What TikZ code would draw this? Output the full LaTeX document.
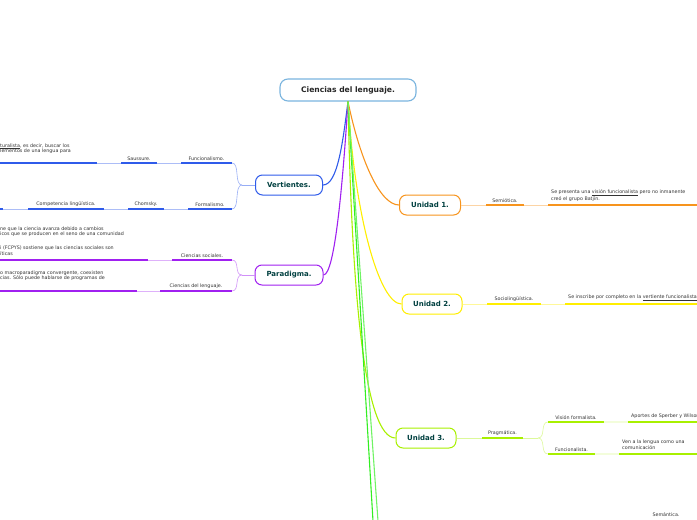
\documentclass[tikz,border=0pt]{standalone}
\usepackage{fontspec}
\setmainfont{DejaVu Sans}
\begin{document}
\begin{tikzpicture}[x=1pt,y=-1pt,
  topic/.style={draw,line width=1pt,rounded corners=7pt,fill=white,font=\bfseries\fontsize{7}{8}\selectfont,text=teal!50!black,minimum height=20pt,inner sep=2pt},
  lbl/.style={font=\fontsize{4.8}{5.6}\selectfont,text=black!80,anchor=south,inner sep=1pt},
  ltxt/.style={font=\fontsize{4.8}{5.8}\selectfont,text=black!80,anchor=south west,inner sep=1pt,align=left},
  thick1/.style={line width=1.1pt},
  thin1/.style={line width=0.6pt}]
\useasboundingbox (0,0) rectangle (697,520);
\clip (0,0) rectangle (697,520);
\definecolor{cblue}{HTML}{2F5BEA}
\definecolor{cpur}{HTML}{A020F0}
\definecolor{cor}{HTML}{F7941D}
\definecolor{cyel}{HTML}{FFEE00}
\definecolor{clg}{HTML}{A8F000}
\definecolor{cgr}{HTML}{33EE22}
\definecolor{croot}{HTML}{7AB4DE}
% root
\node[draw=croot,line width=1.1pt,rounded corners=8pt,minimum width=136pt,minimum height=22pt,font=\bfseries\fontsize{7.6}{8.5}\selectfont,text=black!85] (root) at (348,90) {Ciencias del lenguaje.};
\node[topic,draw=cblue,minimum width=67pt] (ver) at (289,185) {Vertientes.};
\node[topic,draw=cpur,minimum width=68pt] (par) at (289,275) {Paradigma.};
\node[topic,draw=cor,minimum width=61pt] (u1) at (430,205) {Unidad 1.};
\node[topic,draw=cyel,minimum width=60pt] (u2) at (432,304) {Unidad 2.};
\node[topic,draw=clg,minimum width=60pt] (u3) at (426,438) {Unidad 3.};
\coordinate (g1) at (373,521);
\coordinate (g2) at (378,521);
% main connectors
\draw[cblue,thick1] (root.south) .. controls (343,140) and (338,185) .. (ver.east);
\draw[cpur,thick1] (root.south) .. controls (343,180) and (335,275) .. (par.east);
\draw[cor,thick1] (root.south) .. controls (360,160) and (380,205) .. (u1.west);
\draw[cyel,thick1] (root.south) .. controls (355,220) and (380,304) .. (u2.west);
\draw[clg,thick1] (root.south) .. controls (352,300) and (365,438) .. (u3.west);
\draw[cgr,thick1] (root.south) -- (g1);
\draw[cgr!70,thick1] (root.south) -- (g2);
% Vertientes branches
\coordinate (vb) at (242,185);
\draw[cblue!50,thin1] (ver.west) -- (vb);
\draw[cblue!50,thin1] (vb) .. controls (234,185) and (240,163) .. (232,163);
\draw[cblue!50,thin1] (vb) .. controls (234,185) and (240,209) .. (232,209);
\draw[cblue!40,thin1] (0,163) -- (232,163);
\draw[cblue!40,thin1] (0,209) -- (232,209);
\draw[cblue,thick1] (181,163) -- (232,163) node[lbl,midway,above=1pt] {Funcionalismo.};
\draw[cblue,thick1] (121,163) -- (157,163) node[lbl,midway,above=1pt] {Saussure.};
\draw[cblue,thick1] (0,163) -- (97,163);
\node[ltxt] at (-1,155) {\underline{turalista}, es decir, buscar los\\lementos de una lengua para};
\draw[cblue,thick1] (188,209) -- (232,209) node[lbl,midway,above=1pt] {Formalismo.};
\draw[cblue,thick1] (128,209) -- (164,209) node[lbl,midway,above=1pt] {Chomsky.};
\draw[cblue,thick1] (28,209) -- (104,209) node[lbl,midway,above=1pt] {Competencia lingüística.};
\draw[cblue,thick1] (0,209) -- (3,209);
% Paradigma branches
\coordinate (pb) at (242,275);
\draw[cpur!50,thin1] (par.west) -- (pb);
\draw[cpur!50,thin1] (pb) .. controls (234,275) and (240,260) .. (232,260);
\draw[cpur!50,thin1] (pb) .. controls (234,275) and (240,291) .. (232,291);
\draw[cpur!35,thin1] (0,260) -- (232,260);
\draw[cpur!35,thin1] (0,291) -- (232,291);
\draw[cpur,thick1] (172,260) -- (232,260) node[lbl,midway,above=1pt] {Ciencias sociales.};
\draw[cpur,thick1] (0,260) -- (148,260);
\draw[cpur,thick1] (160,291) -- (232,291) node[lbl,midway,above=1pt] {Ciencias del lenguaje.};
\draw[cpur,thick1] (0,291) -- (137,291);
\node[ltxt] at (-1,238) {ne que la ciencia avanza debido a cambios\\icos que se producen en el seno de una comunidad};
\node[ltxt] at (-1,257) {i (FCPYS) sostiene que las ciencias sociales son\\íticas};
\node[ltxt] at (-1,282) {o macroparadigma convergente, coexisten\\cias. Sólo puede hablarse de programas de};
% Unidad 1
\draw[cor!40,thin1] (u1.east) -- (697,205);
\draw[cor,thick1] (486,205) -- (524,205) node[lbl,midway,above=1pt] {Semiótica.};
\draw[cor,thick1] (548,205) -- (697,205);
\node[ltxt] at (550,203) {Se presenta una \underline{visión funcionalista} pero no inmanente\\creó el grupo Batjín.};
% Unidad 2
\draw[cyel!40,thin1] (u2.east) -- (697,304);
\draw[cyel,thick1] (487,304) -- (541,304) node[lbl,midway,above=1pt] {Sociolingüística.};
\draw[cyel,thick1] (565,304) -- (697,304);
\node[ltxt] at (567,302) {Se inscribe por completo en la \underline{vertiente funcionalista}};
% Unidad 3
\coordinate (ub) at (538,438);
\draw[clg!40,thin1] (u3.east) -- (ub);
\draw[clg!40,thin1] (ub) .. controls (546,438) and (540,422) .. (548,422) -- (697,422);
\draw[clg!40,thin1] (ub) .. controls (546,438) and (540,454) .. (548,454) -- (697,454);
\draw[clg,thick1] (482,438) -- (523,438) node[lbl,midway,above=1pt] {Pragmática.};
\draw[clg,thick1] (548,422) -- (604,422) node[lbl,midway,above=1pt] {Visión formalista.};
\draw[clg,thick1] (628,422) -- (697,422);
\node[ltxt] at (630,420) {Aportes de Sperber y Wilson};
\draw[clg,thick1] (548,454) -- (595,454) node[lbl,midway,above=1pt] {Funcionalista.};
\draw[clg,thick1] (619,454) -- (697,454);
\node[ltxt] at (621,451) {Ven a la lengua como una\\comunicación};
\node[lbl] at (666,518) {Semántica.};
\end{tikzpicture}
\end{document}
